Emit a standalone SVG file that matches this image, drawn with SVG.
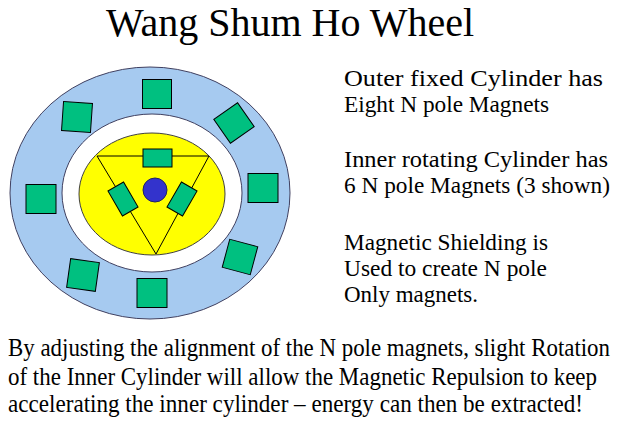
<svg xmlns="http://www.w3.org/2000/svg" width="621" height="421" viewBox="0 0 621 421">
<style>
.mag{fill:#00c080;stroke:#000;stroke-width:1}
.t{font-family:"Liberation Serif","Times New Roman",serif;font-size:23px;fill:#000}
.b{font-family:"Liberation Serif","Times New Roman",serif;font-size:24.5px;fill:#000}
</style>
<rect width="621" height="421" fill="#fff"/>
<text x="290" y="36" text-anchor="middle" font-family="Liberation Serif,serif" font-size="40">Wang Shum Ho Wheel</text>
<g id="outer-cylinder"><ellipse cx="150" cy="193" rx="140" ry="126" fill="#a6caf0" stroke="#404060"/></g>
<g id="gap"><ellipse cx="152" cy="193" rx="90" ry="79" fill="#fff" stroke="#404060"/></g>
<g id="inner-cylinder">
<ellipse cx="152" cy="194" rx="73" ry="61" fill="#ffff00" stroke="#404040"/>
<polygon points="97,156 209,156 156,254" fill="none" stroke="#000" stroke-width="1"/>
<circle cx="155" cy="190" r="12" fill="#3333cc" stroke="#222266"/>
<rect class="mag" x="143" y="149" width="29" height="18"/>
<rect class="mag" x="-9" y="-14.5" width="18" height="29" transform="translate(123,199) rotate(-30)"/>
<rect class="mag" x="-9" y="-14.5" width="18" height="29" transform="translate(182,199) rotate(30)"/>
</g>
<g id="outer-magnets">
<rect class="mag" x="-14.5" y="-14.5" width="29" height="29" transform="translate(157,94)"/>
<rect class="mag" x="-14.5" y="-14.5" width="29" height="29" transform="translate(77,117) rotate(4)"/>
<rect class="mag" x="-14.5" y="-14.5" width="29" height="29" transform="translate(234,123) rotate(-35)"/>
<rect class="mag" x="-15" y="-14.5" width="30" height="29" transform="translate(41,199)"/>
<rect class="mag" x="-15" y="-14.5" width="30" height="29" transform="translate(263,188)"/>
<rect class="mag" x="-14.5" y="-14.5" width="29" height="29" transform="translate(83,275) rotate(8)"/>
<rect class="mag" x="-15" y="-14.5" width="30" height="29" transform="translate(152,293)"/>
<rect class="mag" x="-14.5" y="-14.5" width="29" height="29" transform="translate(240,257) rotate(15)"/>
</g>
<g id="labels">
<text class="t" x="344" y="86" textLength="259" lengthAdjust="spacingAndGlyphs">Outer fixed Cylinder has</text>
<text class="t" x="344" y="112" textLength="205" lengthAdjust="spacingAndGlyphs">Eight N pole Magnets</text>
<text class="t" x="344" y="167" textLength="264" lengthAdjust="spacingAndGlyphs">Inner rotating Cylinder has</text>
<text class="t" x="344" y="193" textLength="266" lengthAdjust="spacingAndGlyphs">6 N pole Magnets (3 shown)</text>
<text class="t" x="344" y="250" textLength="204" lengthAdjust="spacingAndGlyphs">Magnetic Shielding is</text>
<text class="t" x="344" y="276" textLength="203" lengthAdjust="spacingAndGlyphs">Used to create N pole</text>
<text class="t" x="344" y="302" textLength="134" lengthAdjust="spacingAndGlyphs">Only magnets.</text>
<text class="b" x="8" y="356" textLength="602" lengthAdjust="spacingAndGlyphs">By adjusting the alignment of the N pole magnets, slight Rotation</text>
<text class="b" x="8" y="385" textLength="589" lengthAdjust="spacingAndGlyphs">of the Inner Cylinder will allow the Magnetic Repulsion to keep</text>
<text class="b" x="8" y="412" textLength="575" lengthAdjust="spacingAndGlyphs">accelerating the inner cylinder – energy can then be extracted!</text>
</g>
</svg>
